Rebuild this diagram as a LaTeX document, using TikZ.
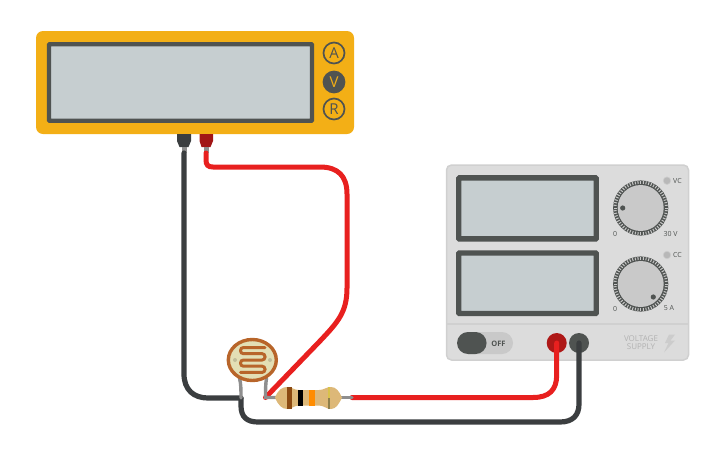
\documentclass[tikz,border=0pt]{standalone}
\usepackage{fontspec}
\setmainfont{Open Sans}
\usetikzlibrary{calc,shapes.geometric}
\definecolor{bodyor}{HTML}{F3AF16}
\definecolor{screen}{HTML}{C6CED0}
\definecolor{dk}{HTML}{4F5351}
\definecolor{wirered}{HTML}{E8201F}
\definecolor{wireblk}{HTML}{3B3E40}
\definecolor{psu}{HTML}{DCDCDC}
\definecolor{psuedge}{HTML}{D0D0D0}
\definecolor{lead}{HTML}{8E8E8E}
\definecolor{brownl}{HTML}{B8652A}
\definecolor{ldrface}{HTML}{E3DFB5}
\definecolor{resbody}{HTML}{DDB878}
\definecolor{bandbrown}{HTML}{8B4A12}
\definecolor{bandorange}{HTML}{FF8C00}
\definecolor{bandgolda}{HTML}{D9C24A}
\definecolor{bandgoldb}{HTML}{8F7F4A}
\tikzset{
  screenbox/.style={draw=dk,fill=screen,line width=#1,rounded corners=.7pt,inner sep=0pt,outer sep=0pt},
  modebtn/.style={circle,draw=dk,line width=1.7pt,minimum size=21pt,inner sep=0pt,text=dk,font=\fontsize{15}{15}\selectfont},
  redw/.style={draw=wirered,line width=5pt,line cap=round},
  blkw/.style={draw=wireblk,line width=5.2pt,line cap=round},
  leadw/.style={draw=lead,line width=3.4pt,line cap=round},
  small/.style={text=dk,font=\fontsize{7}{7.5}\selectfont,inner sep=0pt},
  pale/.style={text=black!30,font=\fontsize{8}{9}\selectfont,inner sep=0pt,align=center},
  led/.style={circle,fill=black!28,draw=black!20,line width=.6pt,minimum size=7.5pt,inner sep=0pt},
  term/.style={circle,minimum size=20pt,inner sep=0pt},
}
\newcommand{\dial}[5]{% name x y dotx doty
  \fill[dk] (#2,#3) circle (27.6);
  \foreach \a in {0,6,...,354} \draw[black!22,line width=1pt] ($(#2,#3)+(\a:24.2)$) -- ($(#2,#3)+(\a:27.2)$);
  \node[circle,fill=black!21,minimum size=46pt,inner sep=0pt] (#1) at (#2,#3) {};
  \fill[dk] (#4,#5) circle (2.6);
}
\begin{document}
\begin{tikzpicture}[x=1pt,y=-1pt]
\useasboundingbox (0,0) rectangle (725,453);
% multimeter
\node[fill=bodyor,rounded corners=7pt,minimum width=318pt,minimum height=103pt,inner sep=0pt] (meter) at (195,82.5) {};
\node[screenbox=4.2pt,minimum width=263pt,minimum height=76.5pt] (mscreen) at (180.5,82.5) {};
\node[modebtn] (btnA) at (334,53) {A};
\node[modebtn,fill=dk,text=bodyor] (btnV) at (334,82) {V};
\node[modebtn] (btnR) at (334,109) {R};
% probes
\fill[wireblk] (177,134) -- (191,134) -- (191,141) -- (188.5,147) -- (179.5,147) -- (177,141) -- cycle;
\fill[wirered!70!black] (199.5,134) -- (213,134) -- (213,141) -- (210.5,147) -- (201.5,147) -- (199.5,141) -- cycle;
\fill[lead] (181.5,147) rectangle (186.5,153);
\fill[lead] (203.5,147) rectangle (208.5,153);
\coordinate (mneg) at (184,153);
\coordinate (mpos) at (206,153);
% power supply
\node[fill=psu,draw=psuedge,line width=1.5pt,rounded corners=5pt,minimum width=242pt,minimum height=195pt,inner sep=0pt] (psu) at (567.5,262.5) {};
\draw[psuedge,line width=1.3pt] (446.7,324) -- (688.3,324);
\node[screenbox=5.4pt,minimum width=137.5pt,minimum height=61pt] (scr1) at (527.5,208.4) {};
\node[screenbox=5.4pt,minimum width=137.5pt,minimum height=60.5pt] (scr2) at (527.5,283.2) {};
\dial{knobV}{640.7}{208}{622.7}{208}
\dial{knobA}{640.7}{284}{653.3}{297}
\node[led] (ledV) at (667,180.7) {};
\node[led] (ledC) at (667,255) {};
\node[small,anchor=west] (tVC) at (673,180.7) {VC};
\node[small,anchor=west] (tCC) at (673,255) {CC};
\node[small] (t0a) at (615,233.5) {0};
\node[small] (t30) at (670.5,233.5) {30 V};
\node[small] (t0b) at (615,308.5) {0};
\node[small] (t5) at (669,308.5) {5 A};
% switch
\node[fill=black!21,rounded corners=11pt,minimum width=56pt,minimum height=22pt,inner sep=0pt] (sw) at (485,343) {};
\node[fill=dk,rounded corners=11pt,minimum width=29.5pt,minimum height=22pt,inner sep=0pt] (swk) at (471.8,343) {};
\node[small,font=\fontsize{7.5}{7.5}\bfseries\selectfont] (off) at (498.5,343.5) {OFF};
\node[pale] (vs) at (641,342.8) {VOLTAGE\\[-1.2pt]SUPPLY};
\fill[black!20] (669,334.5) -- (665,343) -- (668.5,343) -- (664,352.5) -- (675,340.5) -- (670.5,340.5) -- (675,334.5) -- cycle;
\node[term,fill=wirered!75!black] (tpos) at (556.7,343) {};
\node[term,fill=dk] (tneg) at (579,343) {};
% connectors
\coordinate (lj) at (241,398);
\coordinate (rj) at (265.5,397.5);
\coordinate (re) at (352,397.5);
\draw[blkw] (mneg) -- (184,374) .. controls (184,390) and (194,398) .. (208,398) -- (lj);
\draw[blkw] (lj) -- (241,406) .. controls (241,417) and (247,422) .. (258,422) -- (560,422) .. controls (573,422) and (579,415) .. (579,404) -- (tneg.center);
\draw[redw] (mpos) -- (206,160) .. controls (206,165) and (208,167) .. (213,167) -- (320,167) .. controls (338,167) and (347,176) .. (347,194) -- (347,288) .. controls (347,312) and (338,322) .. (320,341) -- (rj);
\draw[redw] (re) -- (533,397.5) .. controls (549,397.5) and (556.7,390) .. (556.7,375) -- (tpos.center);
\draw[leadw] (239.5,378) .. controls (241,384) and (241,390) .. (lj);
\draw[leadw] (266.5,378) .. controls (265.5,385) and (265.5,390) .. (rj) -- (277,397.5);
\draw[leadw] (340,397.5) -- (re);
% LDR
\node[ellipse,fill=ldrface,draw=brownl,line width=3.4pt,minimum width=48pt,minimum height=41pt,inner sep=0pt] (ldr) at (252.3,360) {};
\fill[black!15!ldrface] (235,360) circle (2);
\fill[black!15!ldrface] (270,360) circle (2);
\draw[brownl,line width=3pt,line cap=round,rounded corners=2.9pt]
  (265,347.5) -- (240.5,347.5) -- (240.5,353.7) -- (265,353.7) -- (265,360) -- (240.5,360) -- (240.5,366.2) -- (265,366.2) -- (265,372.4) -- (240.5,372.4);
% resistor
\fill[resbody] (275,397.5) .. controls (278,390) and (282,387) .. (287,387) .. controls (292,387) and (294,390) .. (299,390) -- (319,390) .. controls (324,390) and (326,387) .. (331,387) .. controls (336,387) and (339,391) .. (342,397.5) .. controls (339,404) and (336,409) .. (331,409) .. controls (326,409) and (324,405.5) .. (319,405.5) -- (299,405.5) .. controls (294,405.5) and (292,409) .. (287,409) .. controls (282,409) and (278,405) .. (275,397.5) -- cycle;
\fill[bandbrown] (286.7,387) rectangle (292,409);
\fill[black] (297.7,390) rectangle (303.3,405.5);
\fill[bandorange] (309,390) rectangle (315,405.5);
\fill[bandgolda] (327.5,387) rectangle (330,397.5);
\fill[bandgoldb] (327.5,397.5) rectangle (330,409);
\end{tikzpicture}
\end{document}
